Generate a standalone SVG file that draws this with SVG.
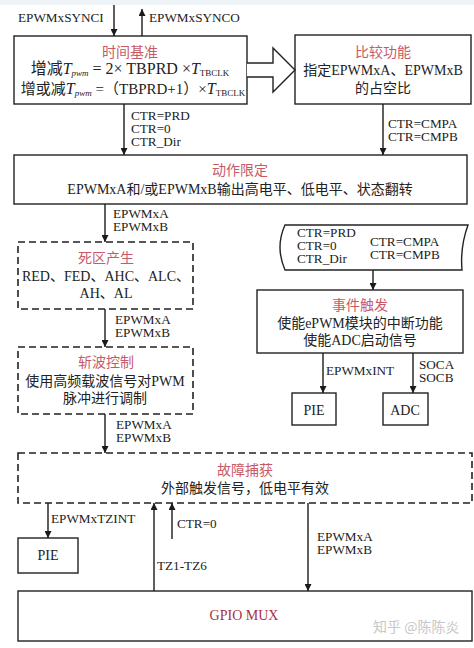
<svg xmlns="http://www.w3.org/2000/svg" width="474" height="648" viewBox="0 0 474 648">
<defs>
<marker id="ah" viewBox="0 0 10 10" refX="10" refY="5" markerWidth="8" markerHeight="7" markerUnits="userSpaceOnUse" orient="auto"><path d="M0,0 L10,5 L0,10 z" fill="#1a1a1a"/></marker>
<style>
text{font-family:"Liberation Serif","Noto Sans CJK SC",serif;fill:#222;}
.t{font-size:14px;text-anchor:middle;}
.h{font-size:14px;text-anchor:middle;fill:#c85a68;}
.l{font-size:13.2px;}
.box{fill:#fff;stroke:#222;stroke-width:1.4;}
.dash{fill:#fff;stroke:#222;stroke-width:1.6;stroke-dasharray:7 4;}
.c line{stroke:#1a1a1a;stroke-width:1.4;}
.arr{marker-end:url(#ah);}
</style>
</defs>
<rect width="474" height="648" fill="#fff"/>
<rect width="474" height="5" fill="#eef3f8"/>

<g id="timebase">
<rect class="box" x="14" y="36" width="233" height="68"/>
<text class="h" x="130" y="57">时间基准</text>
<text x="130" y="74" style="font-size:16px;text-anchor:middle">增减<tspan font-style="italic">T</tspan><tspan font-style="italic" font-size="9" dy="2">pwm</tspan><tspan dy="-2"> = 2× TBPRD ×</tspan><tspan font-style="italic">T</tspan><tspan font-size="9" dy="2">TBCLK</tspan></text>
<text x="133" y="94" style="font-size:15px;text-anchor:middle">增或减<tspan font-style="italic" font-size="16">T</tspan><tspan font-style="italic" font-size="9" dy="2">pwm</tspan><tspan dy="-2"> =（TBPRD+1）×</tspan><tspan font-style="italic" font-size="16">T</tspan><tspan font-size="9" dy="2">TBCLK</tspan></text>
</g>

<g id="compare">
<rect class="box" x="295" y="35" width="176" height="69"/>
<text class="h" x="383" y="57">比较功能</text>
<text class="t" x="383" y="75">指定EPWMxA、EPWMxB</text>
<text class="t" x="383" y="93">的占空比</text>
</g>

<g id="action">
<rect class="box" x="14" y="155" width="453" height="49"/>
<text class="h" x="240" y="175">动作限定</text>
<text class="t" x="240" y="194">EPWMxA和/或EPWMxB输出高电平、低电平、状态翻转</text>
</g>

<g id="deadband">
<rect class="dash" x="18" y="242" width="175" height="67"/>
<text class="h" x="106" y="263">死区产生</text>
<text class="t" x="106" y="281">RED、FED、AHC、ALC、</text>
<text class="t" x="106" y="298">AH、AL</text>
</g>

<g id="chopper">
<rect class="dash" x="18" y="347" width="175" height="67"/>
<text class="h" x="106" y="367">斩波控制</text>
<text class="t" x="105" y="386">使用高频载波信号对PWM</text>
<text class="t" x="105" y="403">脉冲进行调制</text>
</g>

<g id="tripzone">
<rect class="dash" x="18" y="453" width="454" height="50"/>
<text class="h" x="245" y="475">故障捕获</text>
<text class="t" x="245" y="493">外部触发信号，低电平有效</text>
</g>

<g id="tape">
<path class="box" d="M285,225 H468 Q460,247 462,270 H285 Q275,247 285,225 Z"/>
<text class="l" x="297" y="237">CTR=PRD</text>
<text class="l" x="297" y="250">CTR=0</text>
<text class="l" x="297" y="263">CTR_Dir</text>
<text class="l" x="370" y="246">CTR=CMPA</text>
<text class="l" x="370" y="259">CTR=CMPB</text>
</g>

<g id="event">
<rect class="box" x="257" y="290" width="206" height="63"/>
<text class="h" x="360" y="310">事件触发</text>
<text class="t" x="360" y="328">使能ePWM模块的中断功能</text>
<text class="t" x="360" y="345">使能ADC启动信号</text>
</g>

<g id="pie-right">
<rect class="box" x="292" y="393" width="44" height="32"/>
<text class="t" x="314" y="415">PIE</text>
</g>

<g id="adc">
<rect class="box" x="383" y="393" width="45" height="32"/>
<text class="t" x="405" y="415">ADC</text>
</g>

<g id="pie-left">
<rect class="box" x="18" y="538" width="60" height="35"/>
<text class="t" x="48" y="560">PIE</text>
</g>

<g id="gpio">
<rect class="box" x="18" y="591" width="454" height="50"/>
<text class="t" x="244" y="620" style="fill:#a8323e">GPIO MUX</text>
<text x="373" y="632" style="font-size:14px;fill:#c8c8c8;font-family:'Noto Sans CJK SC',sans-serif">知乎 @陈陈炎</text>
</g>

<g id="connectors" class="c">
<line class="arr" x1="114" y1="5" x2="114" y2="36"/>
<line class="arr" x1="142" y1="36" x2="142" y2="9"/>
<path d="M247,63 H273 V48 L295,70 L273,92 V77 H247" fill="#fff" stroke="#222" stroke-width="1.4"/>
<line class="arr" x1="124" y1="104" x2="124" y2="155"/>
<line class="arr" x1="383" y1="104" x2="383" y2="155"/>
<line class="arr" x1="105" y1="204" x2="105" y2="242"/>
<line class="arr" x1="105" y1="309" x2="105" y2="347"/>
<line class="arr" x1="105" y1="414" x2="105" y2="453"/>
<line class="arr" x1="373" y1="270" x2="373" y2="290"/>
<line class="arr" x1="323" y1="353" x2="323" y2="393"/>
<line class="arr" x1="413" y1="353" x2="413" y2="393"/>
<line class="arr" x1="48" y1="503" x2="48" y2="538"/>
<line class="arr" x1="154" y1="591" x2="154" y2="503"/>
<line class="arr" x1="172" y1="539" x2="172" y2="503"/>
<line class="arr" x1="308" y1="503" x2="308" y2="591"/>
</g>

<g id="labels">
<text class="l" x="18" y="22">EPWMxSYNCI</text>
<text class="l" x="149" y="22">EPWMxSYNCO</text>
<text class="l" x="131" y="119.5">CTR=PRD</text>
<text class="l" x="131" y="132.5">CTR=0</text>
<text class="l" x="131" y="145.5">CTR_Dir</text>
<text class="l" x="388" y="128">CTR=CMPA</text>
<text class="l" x="388" y="141">CTR=CMPB</text>
<text class="l" x="113" y="218">EPWMxA</text>
<text class="l" x="113" y="231">EPWMxB</text>
<text class="l" x="115" y="324">EPWMxA</text>
<text class="l" x="115" y="337">EPWMxB</text>
<text class="l" x="116" y="429">EPWMxA</text>
<text class="l" x="116" y="442">EPWMxB</text>
<text class="l" x="326" y="375">EPWMxINT</text>
<text class="l" x="419" y="369">SOCA</text>
<text class="l" x="419" y="382">SOCB</text>
<text class="l" x="51" y="523">EPWMxTZINT</text>
<text class="l" x="177" y="528">CTR=0</text>
<text class="l" x="317" y="541">EPWMxA</text>
<text class="l" x="317" y="554">EPWMxB</text>
<text class="l" x="157" y="570">TZ1-TZ6</text>
</g>
</svg>
